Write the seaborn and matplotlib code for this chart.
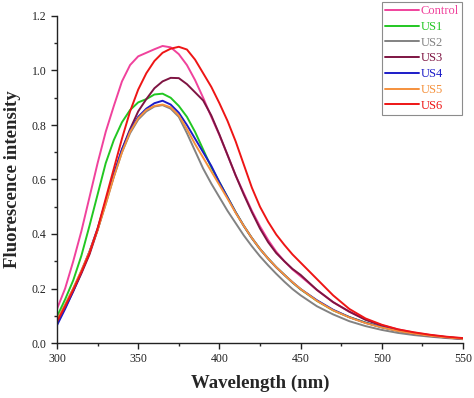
import numpy as np
import pandas as pd
import matplotlib
matplotlib.use("Agg")
import matplotlib.pyplot as plt
import seaborn as sns
from matplotlib.ticker import MultipleLocator

wavelength = [300, 305, 310, 315, 320, 325, 330, 335, 340, 345, 350, 355, 360, 365, 370,
              375, 380, 385, 390, 395, 400, 405, 410, 415, 420, 425, 430, 435, 440, 445, 450,
              460, 470, 480, 490, 500, 510, 520, 530, 540, 550]

control = [0.125, 0.20, 0.30, 0.41, 0.535, 0.66, 0.775, 0.87, 0.96, 1.02, 1.052, 1.065, 1.078, 1.09, 1.085,
           1.06, 1.02, 0.965, 0.90, 0.83, 0.763, 0.69, 0.615, 0.55, 0.485, 0.428, 0.378, 0.335, 0.30, 0.27, 0.245,
           0.195, 0.15, 0.115, 0.087, 0.065, 0.05, 0.038, 0.029, 0.022, 0.017]
us1 = [0.097, 0.16, 0.23, 0.32, 0.43, 0.545, 0.66, 0.745, 0.81, 0.855, 0.883, 0.895, 0.912, 0.915, 0.90,
       0.87, 0.83, 0.775, 0.71, 0.645, 0.59, 0.535, 0.48, 0.43, 0.385, 0.345, 0.31, 0.278, 0.25, 0.222, 0.197,
       0.155, 0.12, 0.095, 0.075, 0.058, 0.045, 0.035, 0.027, 0.021, 0.016]
us2 = [0.085, 0.14, 0.20, 0.265, 0.335, 0.415, 0.51, 0.61, 0.70, 0.77, 0.82, 0.85, 0.868, 0.873, 0.86,
       0.83, 0.77, 0.705, 0.64, 0.585, 0.535, 0.485, 0.44, 0.395, 0.355, 0.318, 0.285, 0.254, 0.225, 0.198, 0.175,
       0.135, 0.105, 0.08, 0.062, 0.048, 0.037, 0.029, 0.023, 0.018, 0.014]
us3 = [0.075, 0.13, 0.19, 0.255, 0.325, 0.415, 0.52, 0.615, 0.71, 0.785, 0.85, 0.895, 0.935, 0.96, 0.973,
       0.972, 0.95, 0.92, 0.89, 0.835, 0.765, 0.69, 0.615, 0.545, 0.48, 0.42, 0.37, 0.33, 0.30, 0.272, 0.25,
       0.195, 0.15, 0.115, 0.085, 0.064, 0.048, 0.036, 0.028, 0.021, 0.016]
us4 = [0.065, 0.125, 0.19, 0.26, 0.335, 0.42, 0.52, 0.62, 0.71, 0.78, 0.83, 0.86, 0.88, 0.889, 0.875,
       0.845, 0.80, 0.75, 0.70, 0.65, 0.59, 0.535, 0.48, 0.43, 0.385, 0.345, 0.31, 0.278, 0.25, 0.223, 0.198,
       0.157, 0.122, 0.095, 0.074, 0.058, 0.045, 0.034, 0.026, 0.020, 0.015]
us5 = [0.085, 0.14, 0.20, 0.265, 0.335, 0.415, 0.51, 0.61, 0.70, 0.775, 0.825, 0.855, 0.87, 0.875, 0.865,
       0.835, 0.785, 0.73, 0.68, 0.63, 0.58, 0.53, 0.478, 0.43, 0.385, 0.345, 0.31, 0.278, 0.25, 0.223, 0.198,
       0.155, 0.12, 0.094, 0.073, 0.057, 0.044, 0.034, 0.026, 0.020, 0.015]
us6 = [0.078, 0.135, 0.195, 0.26, 0.33, 0.42, 0.53, 0.64, 0.75, 0.85, 0.93, 0.99, 1.035, 1.065, 1.08,
       1.087, 1.077, 1.04, 0.99, 0.94, 0.88, 0.815, 0.74, 0.655, 0.57, 0.5, 0.445, 0.398, 0.36, 0.325, 0.295,
       0.235, 0.175, 0.125, 0.09, 0.067, 0.05, 0.039, 0.03, 0.023, 0.018]

names = ["Control", "US1", "US2", "US3", "US4", "US5", "US6"]
series = [control, us1, us2, us3, us4, us5, us6]
colors = ["#F0429C", "#22C722", "#828282", "#7E1442", "#1C1CC8", "#F5913C", "#EE1515"]

df = pd.concat([pd.DataFrame({"Wavelength": wavelength, "Intensity": s, "Sample": n})
                for n, s in zip(names, series)], ignore_index=True)

sns.set_style("ticks")
plt.rcParams['font.family'] = ['Liberation Serif', 'DejaVu Serif']

fig = plt.figure(figsize=(4.74, 3.98), dpi=100)
ax = fig.add_axes([57/474, 55/398, 406/474, 327/398])

sns.lineplot(data=df, x="Wavelength", y="Intensity", hue="Sample",
             palette=dict(zip(names, colors)), hue_order=names, linewidth=1.4, ax=ax)

ax.set_xlim(300, 550)
ax.set_ylim(0, 1.2)
ax.xaxis.set_major_locator(MultipleLocator(50))
ax.xaxis.set_minor_locator(MultipleLocator(25))
ax.yaxis.set_major_locator(MultipleLocator(0.2))
ax.yaxis.set_minor_locator(MultipleLocator(0.1))
ax.yaxis.set_major_formatter(matplotlib.ticker.FormatStrFormatter('%.1f'))
ax.tick_params(which='major', direction='out', length=4, width=1, labelsize=8.5, colors='#222222')
ax.tick_params(which='minor', direction='out', length=2.5, width=1)
for sp in ['top', 'right']:
    ax.spines[sp].set_visible(False)
for sp in ['left', 'bottom']:
    ax.spines[sp].set_linewidth(1.0)
    ax.spines[sp].set_color('#222222')

ax.set_xlabel("Wavelength (nm)", fontsize=13.5, fontweight='bold', labelpad=7)
ax.set_ylabel("Fluorescence intensity", fontsize=13.5, fontweight='bold', labelpad=8)

leg = ax.legend(loc='upper right', bbox_to_anchor=(462/474, 1 - 2/398), bbox_transform=fig.transFigure,
                frameon=True, fancybox=False, fontsize=9, handlelength=2.7, handletextpad=0.15,
                labelspacing=0.3, borderpad=0.25, borderaxespad=0)
leg.get_frame().set_edgecolor('#707070')
leg.get_frame().set_linewidth(0.8)
for txt, c in zip(leg.get_texts(), colors):
    txt.set_color(c)

fig.savefig("out.png", dpi=100)
